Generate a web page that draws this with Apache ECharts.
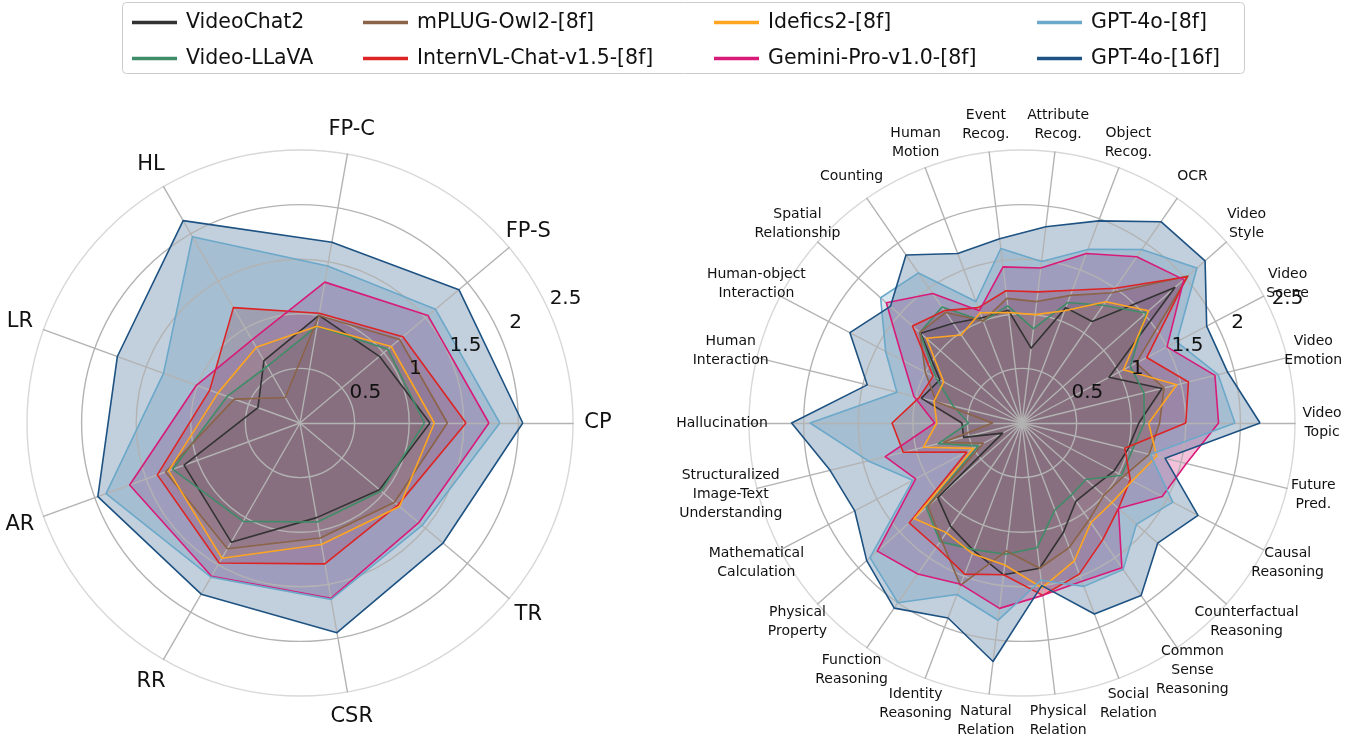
<!DOCTYPE html>
<html><head><meta charset="utf-8">
<script src="https://cdn.jsdelivr.net/npm/echarts@6/dist/echarts.min.js"></script>
<style>html,body{margin:0;padding:0;background:#fff;}#c{width:1348px;height:738px;}</style>
</head><body><div id="c"></div>
<script>
// ---------- data ----------
const models = ['VideoChat2','Video-LLaVA','mPLUG-Owl2-[8f]','InternVL-Chat-v1.5-[8f]','Idefics2-[8f]','Gemini-Pro-v1.0-[8f]','GPT-4o-[8f]','GPT-4o-[16f]'];

const leftAxes = ['CP','FP-S','FP-C','HL','LR','AR','RR','CSR','TR'];
const leftVideoChat2 = [1.19, 0.95, 1.00, 0.66, 0.41, 1.13, 1.26, 0.88, 0.95];
const leftVideoLLaVA = [1.14, 1.05, 0.90, 0.60, 0.71, 1.24, 1.04, 0.92, 0.97];
const leftMplug      = [1.35, 1.19, 1.00, 0.27, 0.64, 1.31, 1.33, 1.07, 1.13];
const leftInternVL   = [1.52, 1.23, 1.02, 1.22, 0.88, 1.39, 1.48, 1.31, 1.17];
const leftIdefics    = [1.23, 1.09, 0.90, 0.80, 0.80, 1.28, 1.43, 1.13, 1.19];
const leftGemini     = [1.73, 1.53, 1.31, 0.88, 1.01, 1.66, 1.62, 1.63, 1.42];
const leftGPT8       = [1.83, 1.62, 1.46, 1.97, 1.33, 1.89, 1.63, 1.64, 1.46];
const leftGPT16      = [2.04, 1.90, 1.68, 2.14, 1.78, 1.97, 1.81, 1.95, 1.71];

const rightAxes = ['Video\nTopic','Video\nEmotion','Video\nScene','Video\nStyle','OCR','Object\nRecog.','Attribute\nRecog.','Event\nRecog.','Human\nMotion','Counting','Spatial\nRelationship','Human-object\nInteraction','Human\nInteraction','Hallucination','Structuralized\nImage-Text\nUnderstanding','Mathematical\nCalculation','Physical\nProperty','Function\nReasoning','Identity\nReasoning','Natural\nRelation','Physical\nRelation','Social\nRelation','Common\nSense\nReasoning','Counterfactual\nReasoning','Causal\nReasoning','Future\nPred.'];
const rightVideoChat2 = [1.07,1.32,0.90,1.87,1.13,1.13,0.69,1.04,1.03,1.11,1.24,0.85,0.95,0.55,0.55,0.20,1.03,1.15,1.25,1.40,1.34,1.07,0.87,0.88,0.95,1.00];
const rightVideoLLaVA = [1.12,1.15,1.12,1.52,1.31,1.18,0.87,1.08,1.00,1.29,1.25,0.89,0.65,0.49,0.79,0.45,1.17,1.32,1.24,1.21,1.15,0.85,0.80,0.78,1.03,1.04];
const rightMplug      = [1.26,1.34,1.18,2.03,1.45,1.25,1.12,1.15,1.00,1.23,1.25,1.00,0.81,0.27,0.74,0.40,1.15,1.30,1.59,1.18,1.34,1.22,1.08,1.00,1.05,1.20];
const rightInternVL   = [1.50,1.57,1.29,2.02,1.50,1.30,1.21,1.22,1.13,1.25,1.34,0.92,0.97,1.19,1.12,0.57,1.38,1.38,1.48,1.40,1.59,1.48,1.30,1.18,1.12,0.97];
const rightIdefics    = [1.16,1.46,1.05,1.55,1.35,1.10,1.00,1.02,1.08,0.98,1.17,0.81,0.83,0.78,0.93,0.50,1.32,1.22,1.28,1.31,1.52,1.35,1.11,1.10,1.14,1.27];
const rightGemini     = [1.80,1.82,1.50,1.98,1.85,1.66,1.43,1.44,1.10,1.44,1.66,1.23,1.02,0.80,1.29,1.10,1.77,1.68,1.58,1.71,1.59,1.55,1.61,1.18,1.45,1.55];
const rightGPT8       = [1.95,1.85,1.60,2.14,1.93,1.70,1.49,1.61,1.19,1.67,1.73,1.41,1.18,1.94,1.45,1.13,1.86,2.00,1.68,1.82,1.45,1.60,1.63,1.40,1.56,1.21];
const rightGPT16      = [2.18,1.94,1.91,2.24,2.24,1.98,1.81,1.70,1.66,1.87,1.61,1.78,1.46,2.11,1.81,1.73,1.90,2.06,1.91,2.20,1.50,1.87,1.92,1.66,1.82,1.35];

const radialTicks = ['0.5','1','1.5','2','2.5'];
const radialMax = 2.5;

// ---------- styles ----------
const colors = ['#333333','#3f8c68','#8b6347','#dd2424','#ffa520','#d81b78','#6ba8c9','#1d5282'];
const FONT = 'DejaVu Sans';
const GRID = '#b3b3b3';

const leftValues = [leftVideoChat2,leftVideoLLaVA,leftMplug,leftInternVL,leftIdefics,leftGemini,leftGPT8,leftGPT16];
const rightValues = [rightVideoChat2,rightVideoLLaVA,rightMplug,rightInternVL,rightIdefics,rightGemini,rightGPT8,rightGPT16];

function radarSeries(radarIndex, values) {
  const out = [];
  models.forEach((m, i) => {
    out.push({
      type: 'radar', radarIndex: radarIndex, z: 1, symbol: 'none', silent: true,
      lineStyle: { width: 0, opacity: 0 },
      areaStyle: { color: colors[i], opacity: 0.27 },
      itemStyle: { color: colors[i] },
      data: [{ name: m, value: values[i] }]
    });
  });
  models.forEach((m, i) => {
    out.push({
      type: 'radar', radarIndex: radarIndex, z: 3, symbol: 'none', silent: true,
      lineStyle: { width: 1.6, color: colors[i] },
      itemStyle: { color: colors[i] },
      data: [{ name: m, value: values[i] }]
    });
  });
  return out;
}

function radarCfg(center, axes, fontSize, lineHeight, gap) {
  return {
    center: center, radius: 273, startAngle: 0, shape: 'circle', splitNumber: 5, z: 2,
    indicator: axes.map(n => ({ name: n, min: 0, max: radialMax })),
    nameGap: gap,
    axisName: { color: '#111', fontSize: fontSize, lineHeight: lineHeight, fontFamily: FONT, align: 'center', verticalAlign: 'middle' },
    splitLine: { lineStyle: { color: [GRID, GRID, GRID, GRID, GRID, '#d8d8d8'], width: 1.4 } },
    splitArea: { show: false },
    axisLine: { lineStyle: { color: GRID, width: 1.4 } },
    axisTick: { show: false },
    axisLabel: { show: false }
  };
}

function radiusAxisCfg(idx) {
  return {
    polarIndex: idx, type: 'value', min: 0, max: radialMax, interval: 0.5, z: 10,
    axisLine: { show: false }, axisTick: { show: false }, splitLine: { show: false },
    axisLabel: {
      showMinLabel: false, margin: 0, align: 'center', verticalAlign: 'middle',
      fontSize: 20, color: '#111', fontFamily: FONT,
      formatter: v => { const k = Math.round(v / 0.5) - 1; return radialTicks[k] || ''; }
    }
  };
}

const legendCols = [[0, 1], [2, 3], [4, 5], [6, 7]];
const legendLeft = [127, 358, 709, 1032];

const option = {
  animation: false,
  backgroundColor: '#fff',
  graphic: [{
    type: 'rect', left: 122, top: 2, z: 0,
    shape: { width: 1122, height: 71, r: 4 },
    style: { fill: '#fff', stroke: '#cccccc', lineWidth: 1 }
  }],
  legend: legendCols.map((col, k) => ({
    orient: 'vertical', left: legendLeft[k], top: 7, z: 5,
    itemWidth: 45, itemHeight: 3.5, itemGap: 15, icon: 'rect',
    selectedMode: false,
    textStyle: { fontSize: 20.5, fontFamily: FONT, color: '#111', padding: [0, 0, 0, 4], lineHeight: 20 },
    data: col.map(i => ({ name: models[i], itemStyle: { color: colors[i] } }))
  })),
  radar: [
    radarCfg([300, 423], leftAxes, 21, 24, 25),
    radarCfg([1022, 423], rightAxes, 14, 19, 27)
  ],
  polar: [
    { center: [300, 423], radius: [17, 293] },
    { center: [1022, 423], radius: [17, 293] }
  ],
  angleAxis: [
    { polarIndex: 0, type: 'value', min: 0, max: 360, startAngle: 25, show: false },
    { polarIndex: 1, type: 'value', min: 0, max: 360, startAngle: 25, show: false }
  ],
  radiusAxis: [radiusAxisCfg(0), radiusAxisCfg(1)],
  series: radarSeries(0, leftValues).concat(radarSeries(1, rightValues))
};

const chart = echarts.init(document.getElementById('c'), null, { renderer: 'canvas' });
chart.setOption(option);
</script>
</body></html>
